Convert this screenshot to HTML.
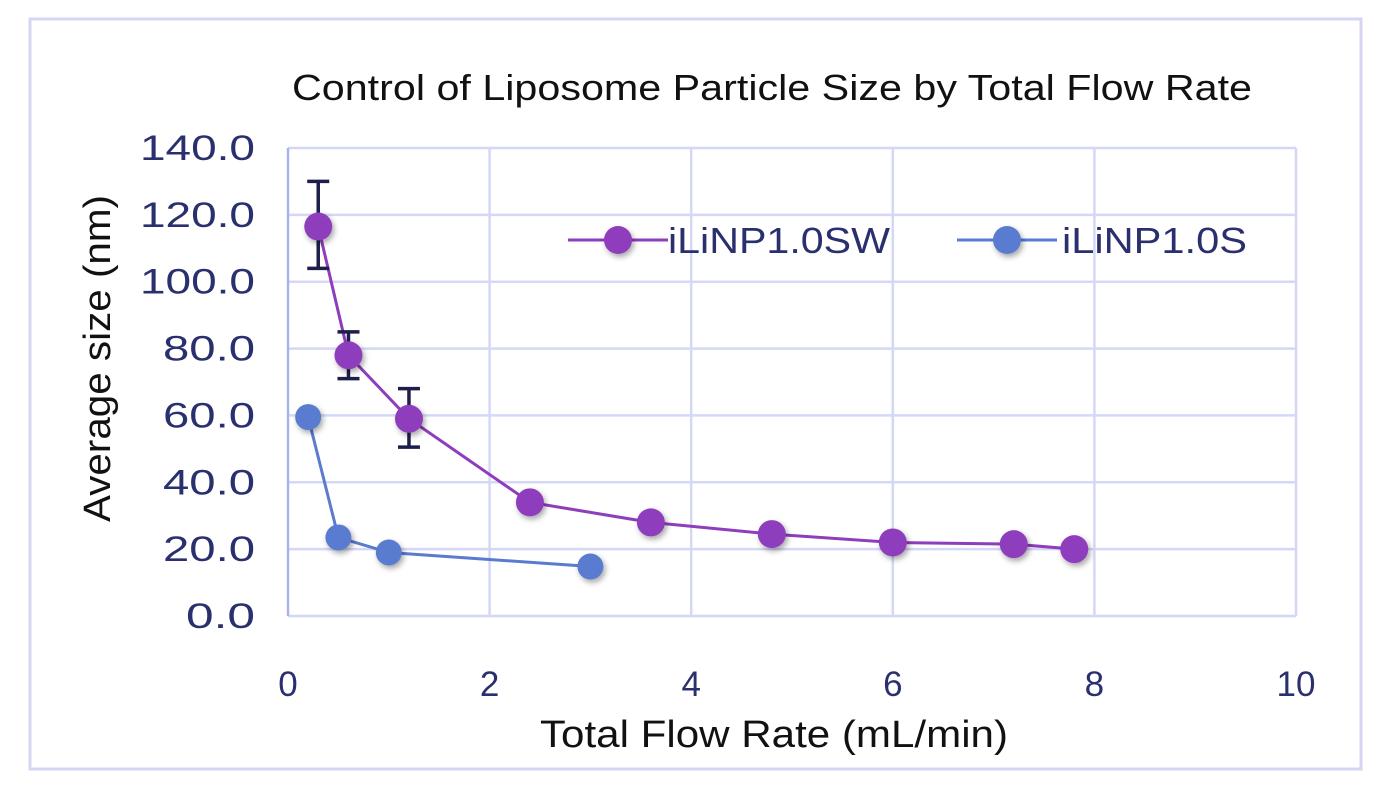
<!DOCTYPE html>
<html><head><meta charset="utf-8"><style>
html,body{margin:0;padding:0;background:#fff;}
svg{display:block;font-family:"Liberation Sans","DejaVu Sans",sans-serif;}
</style></head><body>
<svg id="chart" width="1383" height="791">
<defs><filter id="sh" x="-50%" y="-50%" width="200%" height="200%"><feDropShadow dx="2" dy="3" stdDeviation="3" flood-color="#000" flood-opacity="0.35"/></filter></defs>
<rect x="30" y="19" width="1331" height="750" fill="#fff" stroke="#d4d6f2" stroke-width="3"/>
<text x="292" y="100" font-size="36" fill="#111" textLength="960" lengthAdjust="spacingAndGlyphs">Control of Liposome Particle Size by Total Flow Rate</text>
<g id="grid"></g><g id="axes"></g><g id="series"></g>
<text x="540" y="747" font-size="38" fill="#111" textLength="468" lengthAdjust="spacingAndGlyphs">Total Flow Rate (mL/min)</text>
<text transform="translate(110,522) rotate(-90)" font-size="38" fill="#111" textLength="327" lengthAdjust="spacingAndGlyphs">Average size (nm)</text>
<g>
<line x1="568" y1="240" x2="668" y2="240" stroke="#8e3dbd" stroke-width="3"/>
<circle cx="618" cy="240" r="14" fill="#8e3dbd" filter="url(#sh)"/>
<text x="668" y="253" font-size="36" fill="#2a2f6e" textLength="222" lengthAdjust="spacingAndGlyphs">iLiNP1.0SW</text>
<line x1="957" y1="240" x2="1057" y2="240" stroke="#5a7bd0" stroke-width="3"/>
<circle cx="1007" cy="240" r="14" fill="#5a7bd0" filter="url(#sh)"/>
<text x="1062" y="253" font-size="36" fill="#2a2f6e" textLength="185" lengthAdjust="spacingAndGlyphs">iLiNP1.0S</text>
</g>
</svg>
<script>
const xTicks=[0,2,4,6,8,10];
const yTicks=[0,20,40,60,80,100,120,140];
const swX=[0.3,0.6,1.2,2.4,3.6,4.8,6,7.2,7.8];
const swY=[116.5,78,59,34,28,24.5,22,21.5,20];
const swErrLow=[104,71,50.5];
const swErrHigh=[130,85,68];
const sX=[0.2,0.5,1.0,3.0];
const sY=[59.5,23.5,19,14.8];
const NS="http://www.w3.org/2000/svg";
const X=v=>288+v*100.8, Y=v=>616-v*(468/140);
function mk(t,a,p){const e=document.createElementNS(NS,t);for(const k in a)e.setAttribute(k,a[k]);p.appendChild(e);return e;}
const grid=document.getElementById('grid'),axes=document.getElementById('axes'),ser=document.getElementById('series');
yTicks.forEach(v=>{
 const l=mk('line',{x1:288,x2:1296,y1:Y(v),y2:Y(v),stroke:'#d4d8f6','stroke-width':2.5},grid);
 
 
 const s=v.toFixed(1);
 const t=mk('text',{x:255,y:Y(v)+12,'text-anchor':'end','font-size':35,fill:'#2a2f6e',textLength:s.length*23,lengthAdjust:'spacingAndGlyphs'},axes);
 t.textContent=s;
 
 
});
xTicks.forEach(v=>{
 const l=mk('line',{x1:X(v),x2:X(v),y1:Y(140),y2:Y(0),stroke:v===0?'#a8b2ee':'#d4d8f6','stroke-width':2.5},grid);
 
 
 const t=mk('text',{x:X(v),y:696,'text-anchor':'middle','font-size':35,fill:'#2a2f6e'},axes);
 t.textContent=v;
 
 
});
function series(xs,ys,col,name){
 const pl=mk('polyline',{points:xs.map((x,i)=>X(x)+','+Y(ys[i])).join(' '),fill:'none',stroke:col,'stroke-width':3},ser);
 
 
 return pl;
}
series(sX,sY,'#5a7bd0','series-s');
series(swX,swY,'#8e3dbd','series-sw');
swErrLow.forEach((lo,i)=>{
 const x=X(swX[i]);
 const g=mk('g',{stroke:'#1c1f4a','stroke-width':3.5},ser);
 
 
 mk('line',{x1:x,x2:x,y1:Y(lo),y2:Y(swErrHigh[i])},g);
 mk('line',{x1:x-11,x2:x+11,y1:Y(lo),y2:Y(lo)},g);
 mk('line',{x1:x-11,x2:x+11,y1:Y(swErrHigh[i]),y2:Y(swErrHigh[i])},g);
});
sX.forEach((x,i)=>{
 const c=mk('circle',{cx:X(x),cy:Y(sY[i]),r:13,fill:'#5a7bd0',filter:'url(#sh)'},ser);
 
 
});
swX.forEach((x,i)=>{
 const c=mk('circle',{cx:X(x),cy:Y(swY[i]),r:14,fill:'#8e3dbd',filter:'url(#sh)'},ser);
 
 
});
</script>
</body></html>
